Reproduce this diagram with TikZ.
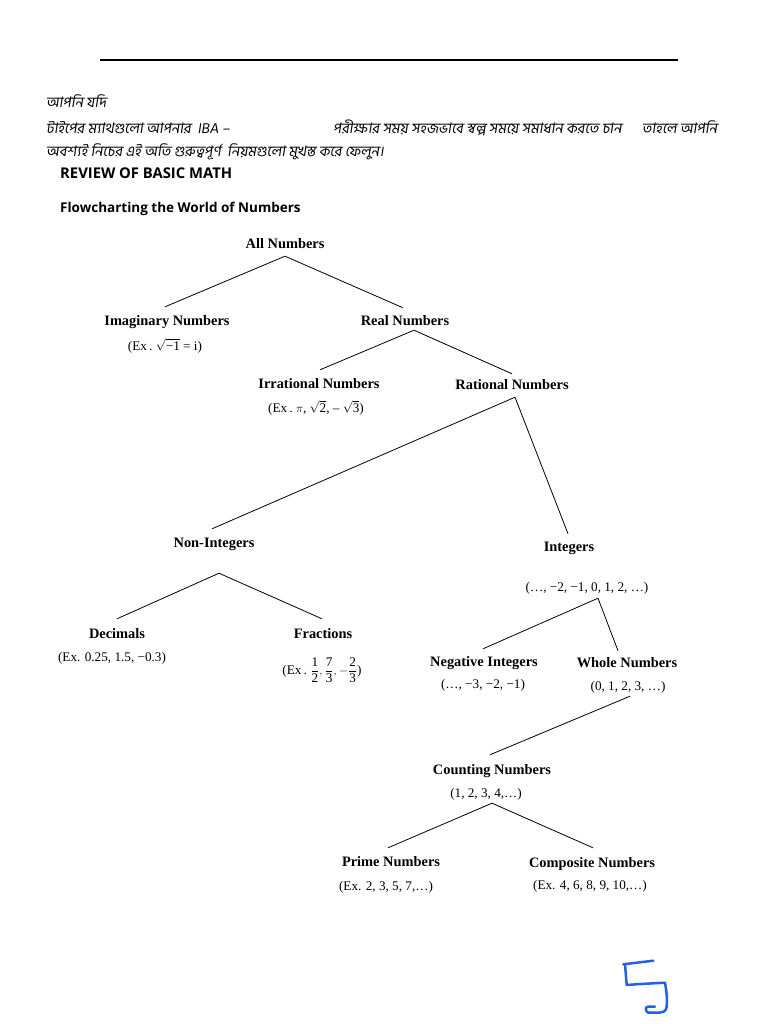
\documentclass[tikz,border=0pt]{standalone}
\usepackage{amsmath}
\usepackage{fontspec}
\setmainfont{Liberation Serif}
\newfontfamily\headfont{Open Sans}
\newfontfamily\bangla[Script=Bengali,FakeSlant=0.15]{Hind Siliguri}
\definecolor{penblue}{RGB}{35,95,235}

\begin{document}
\begin{tikzpicture}[x=1pt, y=-1pt]
        \tikzstyle{kind}=[font=\bfseries\fontsize{14.4}{16}\selectfont,
            inner sep=0pt, text height=10pt, text depth=3pt]
        \tikzstyle{eg}=[font=\fontsize{13.2}{15}\selectfont,
            inner sep=0pt, text height=9.5pt, text depth=3pt]
        \tikzstyle{bn}=[font=\bangla\fontsize{14.5}{16}\selectfont,
            inner sep=0pt, anchor=base west]
        \tikzstyle{head}=[font=\headfont\bfseries\fontsize{13.5}{15}\selectfont,
            inner sep=0pt, anchor=base west]
        \tikzstyle{branch}=[line width=0.8pt]

        \useasboundingbox (0, 0) rectangle (768, 1024);

        % page top
        \draw[line width=2.8pt] (100, 60) -- (678, 60);

        \node[bn] (bn1) at (46, 108) {আপনি যদি};
        \node[bn] (bn2) at (46, 134) {টাইপের ম্যাথগুলো আপনার \ IBA –};
        \node[bn] (bn3) at (333, 134) {পরীক্ষার সময় সহজভাবে স্বল্প সময়ে সমাধান করতে চান};
        \node[bn] (bn4) at (642, 134) {তাহলে আপনি};
        \node[bn] (bn5) at (46, 157) {অবশ্যই নিচের এই অতি গুরুত্বপূর্ণ \ নিয়মগুলো মুখস্ত করে ফেলুন।};

        \node[head, font=\headfont\bfseries\fontsize{14.8}{16}\selectfont] (review) at (60, 179) {REVIEW OF BASIC MATH};
        \node[head] (flow) at (60, 213) {Flowcharting the World of Numbers};

        % the tree
        \node[kind] (all) at (285, 245) {All Numbers};
        \node[kind] (imag) at (167, 322) {Imaginary Numbers};
        \node[eg] (imagex) at (165, 347) {(Ex\,.\ $\sqrt{\mbox{−1}}$ = i)};
        \node[kind] (real) at (405, 322) {Real Numbers};
        \node[kind] (irr) at (319, 385) {Irrational Numbers};
        \node[eg] (irrex) at (316, 409) {(Ex\,.\ $\pi$, $\sqrt{\mbox{2}}$, – $\sqrt{\mbox{3}}$)};
        \node[kind] (rat) at (512, 386) {Rational Numbers};
        \node[kind] (nonint) at (214, 544) {Non-Integers};
        \node[kind] (int) at (569, 548) {Integers};
        \node[eg] (intex) at (587, 588) {(…, −2, −1, 0, 1, 2, …)};
        \node[kind] (dec) at (117, 635) {Decimals};
        \node[eg] (decex) at (112, 658) {(Ex. 0.25, 1.5, −0.3)};
        \node[kind] (frac) at (323, 635) {Fractions};
        \node[eg] (fracex) at (322, 671) {(Ex\,.\ $\dfrac{\mbox{1}}{\mbox{2}}, \dfrac{\mbox{7}}{\mbox{3}}, -\dfrac{\mbox{2}}{\mbox{3}}$)};
        \node[kind] (neg) at (484, 663) {Negative Integers};
        \node[eg] (negex) at (483, 685) {(…, −3, −2, −1)};
        \node[kind] (whole) at (627, 664) {Whole Numbers};
        \node[eg] (wholex) at (628, 687) {(0, 1, 2, 3, …)};
        \node[kind] (count) at (492, 771) {Counting Numbers};
        \node[eg] (countex) at (486, 794) {(1, 2, 3, 4,…)};
        \node[kind] (prime) at (391, 863) {Prime Numbers};
        \node[eg] (primex) at (386, 887) {(Ex. 2, 3, 5, 7,…)};
        \node[kind] (comp) at (592, 864) {Composite Numbers};
        \node[eg] (compex) at (590, 886) {(Ex. 4, 6, 8, 9, 10,…)};

        \draw[branch] ([yshift=-4.5pt]all.south) to ([xshift=-2pt, yshift=8.5pt]imag.north);
        \draw[branch] ([yshift=-4.5pt]all.south) to ([xshift=-2pt, yshift=7.5pt]real.north);
        \draw[branch] ([xshift=9pt, yshift=-1.5pt]real.south) to ([xshift=1pt, yshift=8.5pt]irr.north);
        \draw[branch] ([xshift=9pt, yshift=-1.5pt]real.south) to ([yshift=5.5pt]rat.north);
        \draw[branch] ([xshift=3pt, yshift=-4.5pt]rat.south) to ([xshift=-2pt, yshift=8.5pt]nonint.north);
        \draw[branch] ([xshift=3pt, yshift=-4.5pt]rat.south) to ([xshift=-1pt, yshift=7.5pt]int.north);
        \draw[branch] ([xshift=5pt, yshift=-22.5pt]nonint.south) to ([yshift=9.5pt]dec.north);
        \draw[branch] ([xshift=5pt, yshift=-22.5pt]nonint.south) to ([xshift=-1pt, yshift=9.5pt]frac.north);
        \draw[branch] ([xshift=11pt, yshift=-3.75pt]intex.south) to ([xshift=-1pt, yshift=7.5pt]neg.north);
        \draw[branch] ([xshift=11pt, yshift=-3.75pt]intex.south) to ([xshift=-9pt, yshift=6.5pt]whole.north);
        \draw[branch] ([xshift=2pt, yshift=-2.75pt]wholex.south) to ([xshift=-2pt, yshift=9.5pt]count.north);
        \draw[branch] ([xshift=6pt, yshift=-2.75pt]countex.south) to ([xshift=-3pt, yshift=8.5pt]prime.north);
        \draw[branch] ([xshift=6pt, yshift=-2.75pt]countex.south) to ([xshift=1pt, yshift=9.5pt]comp.north);

        % page number, by hand
        \draw[penblue, line width=2.5pt, line cap=round, line join=round]
            (623.3, 964.3) -- (653.3, 960.7)
            (625, 964.3) -- (626.7, 985) .. controls (640, 984) .. (665, 982.7)
            .. controls (667, 995) .. (666.7, 1006.7)
            .. controls (666, 1012) and (663, 1012.7) .. (655, 1012.7)
            -- (648.3, 1012.7) .. controls (645, 1011) and (645, 1007) .. (648, 1006.7)
            -- (655, 1006.7);
    \end{tikzpicture}
\end{document}
